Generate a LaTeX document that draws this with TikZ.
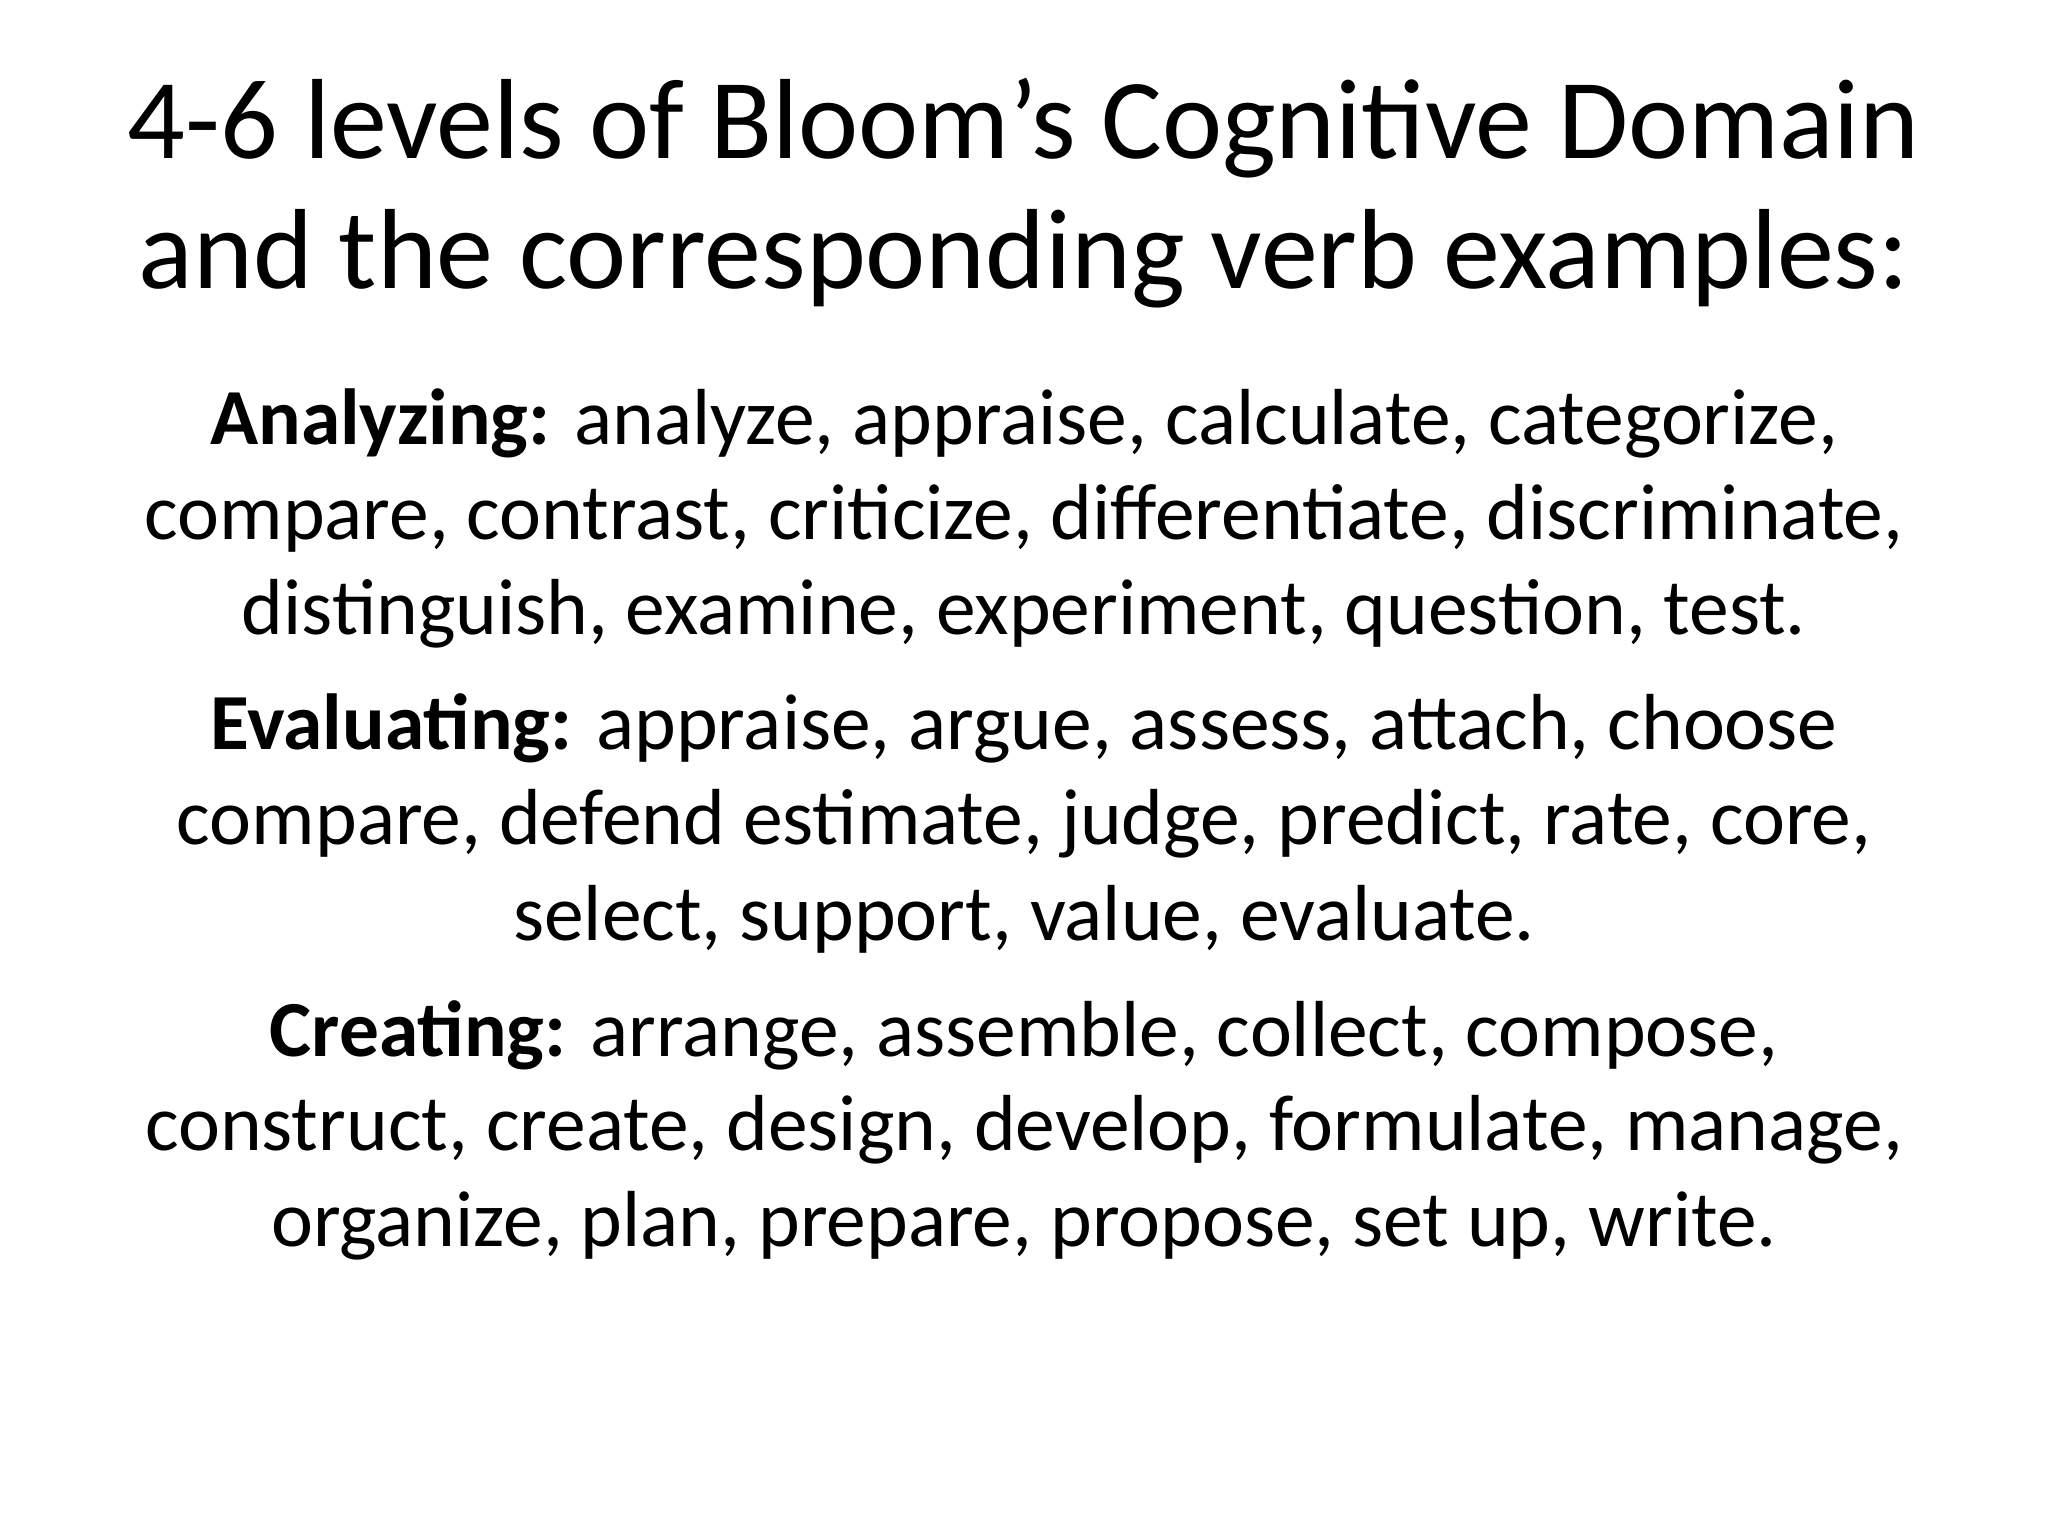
\documentclass[tikz,border=0pt]{standalone}
\usepackage{fontspec}
\setmainfont{Carlito}
\begin{document}
\begin{tikzpicture}[x=0.01cm,y=-0.01cm,
 ttl/.style={font=\fontsize{32.4}{34}\selectfont,anchor=center,inner sep=0},
 bod/.style={font=\fontsize{22.6}{24}\selectfont,anchor=center,inner sep=0}]
\useasboundingbox (0,0) rectangle (2048,1536);
\node[ttl] (t1) at (1024,135) {\strut 4-6 levels of Bloom’s Cognitive Domain};
\node[ttl] (t2) at (1024,265) {\strut and the corresponding verb examples:};
\node[bod] (a1) at (1024,428) {\strut\textbf{Analyzing:} analyze, appraise, calculate, categorize,};
\node[bod] (a2) at (1024,523) {\strut compare, contrast, criticize, differentiate, discriminate,};
\node[bod] (a3) at (1024,618) {\strut distinguish, examine, experiment, question, test.};
\node[bod] (e1) at (1024,733) {\strut\textbf{Evaluating:} appraise, argue, assess, attach, choose};
\node[bod] (e2) at (1024,828) {\strut compare, defend estimate, judge, predict, rate, core,};
\node[bod] (e3) at (1024,924) {\strut select, support, value, evaluate.};
\node[bod] (c1) at (1024,1040) {\strut\textbf{Creating:} arrange, assemble, collect, compose,};
\node[bod] (c2) at (1024,1134) {\strut construct, create, design, develop, formulate, manage,};
\node[bod] (c3) at (1024,1230) {\strut organize, plan, prepare, propose, set up, write.};
\end{tikzpicture}
\end{document}
